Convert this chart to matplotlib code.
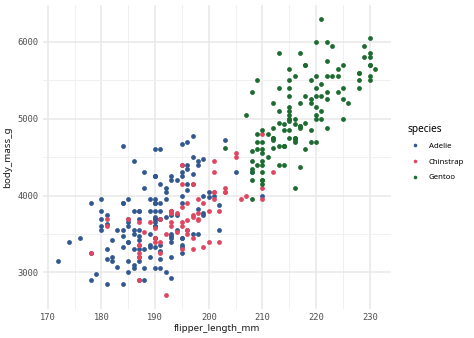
import numpy as np
import matplotlib
matplotlib.use("Agg")
from matplotlib import pyplot as plt
from matplotlib.lines import Line2D

# flipper length (mm), body mass (g) per species
adelie_flipper = [181, 186, 195, 193, 190, 181, 195, 193, 190, 186, 180, 182, 191, 198, 185, 195, 197, 184, 194, 174,
                  180, 189, 185, 180, 187, 183, 187, 172, 180, 178, 178, 188, 184, 195, 196, 190, 180, 181, 184, 182,
                  195, 186, 196, 185, 190, 182, 179, 190, 191, 186, 188, 190, 200, 187, 191, 186, 193, 181, 194, 185,
                  195, 185, 192, 184, 192, 195, 188, 190, 198, 190, 190, 196, 197, 190, 195, 191, 184, 187, 195, 189,
                  196, 187, 193, 191, 194, 190, 189, 189, 190, 202, 205, 185, 186, 187, 208, 190, 196, 178, 192, 192,
                  203, 183, 190, 193, 184, 199, 190, 181, 197, 198, 191, 193, 197, 191, 196, 188, 199, 189, 189, 187,
                  198, 176, 202, 186, 199, 191, 195, 191, 210, 190, 197, 193, 199, 187, 190, 191, 200, 185, 193, 193,
                  187, 188, 190, 192, 185, 190, 184, 195, 193, 187, 201]
adelie_mass = [3750, 3800, 3250, 3450, 3650, 3625, 4675, 3475, 4250, 3300, 3700, 3200, 3800, 4400, 3700, 3450, 4500, 3325, 4200, 3400,
               3600, 3800, 3950, 3800, 3800, 3550, 3200, 3150, 3950, 3250, 3900, 3300, 3900, 3325, 4150, 3950, 3550, 3300, 4650, 3150,
               3900, 3100, 4400, 3000, 4600, 3425, 2975, 3450, 4150, 3500, 4300, 3450, 4050, 2900, 3700, 3550, 3800, 2850, 3750, 3150,
               4400, 3600, 4050, 2850, 3950, 3350, 4100, 3050, 4450, 3600, 3900, 3550, 4150, 3700, 4250, 3700, 3900, 3550, 4000, 3200,
               4700, 3800, 4200, 3350, 3550, 3800, 3500, 3950, 3600, 3550, 4300, 3400, 4450, 3300, 4300, 3700, 4350, 2900, 4100, 3725,
               4725, 3075, 4250, 2925, 3550, 3750, 3900, 3175, 4775, 3825, 4600, 3200, 4275, 3900, 4075, 2900, 3775, 3350, 3325, 3150,
               3500, 3450, 3875, 3050, 4000, 3275, 4300, 3050, 4000, 3325, 3500, 3500, 4475, 3425, 3900, 3175, 3975, 3400, 4250, 3400,
               3475, 3050, 3725, 3000, 3650, 4250, 3475, 3450, 3750, 3700, 4000]

chinstrap_flipper = [192, 196, 193, 188, 197, 198, 178, 197, 195, 198, 193, 194, 185, 201, 190, 201, 197, 181, 190, 195,
                     181, 191, 187, 193, 195, 197, 200, 200, 191, 205, 187, 201, 187, 203, 195, 199, 195, 210, 192, 205,
                     210, 187, 196, 196, 196, 201, 190, 212, 187, 198, 199, 201, 193, 203, 187, 197, 191, 203, 202, 194,
                     206, 189, 195, 207, 202, 193, 210, 198]
chinstrap_mass = [3500, 3900, 3650, 3525, 3725, 3950, 3250, 3750, 4150, 3700, 3800, 3775, 3700, 4050, 3575, 4050, 3300, 3700, 3450, 4400,
                  3600, 3400, 2900, 3800, 3300, 4150, 3400, 3800, 3700, 4550, 3200, 4300, 3350, 4100, 3600, 3900, 3850, 4800, 2700, 4500,
                  3950, 3650, 3550, 3500, 3675, 4450, 3400, 4300, 3250, 3675, 3325, 3950, 3600, 4050, 3350, 3450, 3250, 4050, 3800, 3525,
                  3950, 3650, 3650, 4000, 3400, 3775, 4100, 3775]

gentoo_flipper = [211, 230, 210, 218, 215, 210, 211, 219, 209, 215, 214, 216, 214, 213, 210, 217, 210, 221, 209, 222,
                  218, 215, 213, 215, 215, 215, 216, 215, 210, 220, 222, 209, 207, 230, 220, 220, 213, 219, 208, 208,
                  208, 225, 210, 216, 222, 217, 210, 225, 213, 215, 210, 220, 210, 225, 217, 220, 208, 220, 208, 224,
                  208, 221, 214, 231, 219, 230, 214, 229, 220, 223, 216, 221, 221, 217, 216, 230, 209, 220, 215, 223,
                  212, 221, 212, 224, 212, 228, 218, 218, 212, 230, 218, 228, 212, 224, 214, 226, 216, 222, 203, 225,
                  219, 228, 215, 228, 216, 215, 210, 219, 208, 209, 216, 229, 213, 230, 217, 230, 217, 222, 214, 215,
                  222, 212, 213]
gentoo_mass = [4500, 5700, 4450, 5700, 5400, 4550, 4800, 5200, 4400, 5150, 4650, 5550, 4650, 5850, 4200, 5850, 4150, 6300, 4800, 5350,
               5700, 5000, 4400, 5050, 5000, 5100, 4100, 5650, 4600, 5550, 5250, 4700, 5050, 6050, 5150, 5400, 4950, 5250, 4350, 5350,
               3950, 5700, 4300, 4750, 5550, 4900, 4200, 5400, 5100, 5300, 4850, 5300, 4400, 5000, 4900, 5050, 4300, 5000, 4450, 5550,
               4200, 5300, 4400, 5650, 4700, 5700, 4650, 5800, 4700, 5550, 4750, 5000, 5100, 5200, 4700, 5800, 4600, 6000, 4750, 5950,
               4625, 5450, 4725, 5350, 4750, 5600, 4600, 5300, 4875, 5550, 4950, 5400, 4750, 5650, 4850, 5200, 4925, 4875, 4625, 5250,
               4850, 5600, 4975, 5500, 4725, 5500, 4700, 5500, 4575, 5500, 5000, 5950, 4650, 5500, 4375, 5850, 4875, 6000, 4925, 4850,
               5750, 5200, 5400]

species = ["Adelie", "Chinstrap", "Gentoo"]
colors = ["#33588f", "#df4760", "#1c6b30"]
x_ticks = [170, 180, 190, 200, 210, 220, 230]
y_ticks = [3000, 4000, 5000, 6000]

fig = plt.figure(figsize=(4.74, 3.38), dpi=100)
ax = fig.add_axes([0.0899, 0.0852, 0.735, 0.900])

data = [(adelie_flipper, adelie_mass), (chinstrap_flipper, chinstrap_mass), (gentoo_flipper, gentoo_mass)]
for (fx, fy), col in zip(data, colors):
    ax.scatter(fx, fy, s=12, color=col, linewidths=0, zorder=3)

ax.set_xlim(169.05, 233.95)
ax.set_ylim(2520, 6480)
ax.set_xticks(x_ticks)
ax.set_yticks(y_ticks)
ax.set_xticks([175, 185, 195, 205, 215, 225], minor=True)
ax.set_yticks([3500, 4500, 5500], minor=True)
ax.grid(True, which="major", color="#e8e8e8", linewidth=1.1, zorder=0)
ax.grid(True, which="minor", color="#f0f0f0", linewidth=0.7, zorder=0)
ax.tick_params(which="both", length=0, pad=3)
for lab in ax.get_xticklabels() + ax.get_yticklabels():
    lab.set_family("DejaVu Sans Mono")
    lab.set_fontsize(6.3)
    lab.set_color("#4d4d4d")
for s in ax.spines.values():
    s.set_visible(False)

ax.set_xlabel("flipper_length_mm", fontsize=7, family="Noto Sans", color="#1a1a1a", labelpad=1.5)
ax.set_ylabel("body_mass_g", fontsize=7, family="Noto Sans", color="#1a1a1a", labelpad=4)

handles = [Line2D([], [], marker="o", linestyle="", markersize=2.6, color=c, markeredgewidth=0) for c in colors]
leg = fig.legend(handles, species, loc="upper left", bbox_to_anchor=(0.845, 0.655), frameon=False,
                 title="species", alignment="left", handletextpad=0.7, labelspacing=1.05,
                 prop={"family": "Noto Sans", "size": 5.6}, title_fontproperties={"family": "Noto Sans", "size": 7.3})

fig.savefig("out.png", dpi=100)
